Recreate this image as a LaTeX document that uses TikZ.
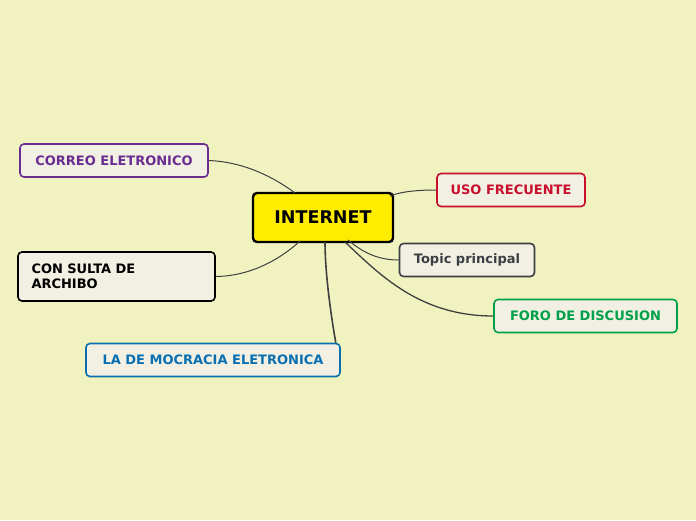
\documentclass[tikz,border=0pt]{standalone}
\usepackage{fontspec}
\setmainfont{DejaVu Sans}
\definecolor{bg}{HTML}{F0F2C0}
\definecolor{nf}{HTML}{F2F0E2}
\definecolor{cpurple}{HTML}{6A2C91}
\definecolor{cred}{HTML}{C8102E}
\definecolor{cgray}{HTML}{3A3F44}
\definecolor{cgreen}{HTML}{00A04A}
\definecolor{cblue}{HTML}{0A6FB0}
\definecolor{line}{HTML}{404040}
\begin{document}
\begin{tikzpicture}[x=1pt,y=-1pt,
  topic/.style={draw,line width=1.6pt,rounded corners=4pt,fill=nf,font=\fontsize{13}{15}\selectfont\bfseries,inner sep=0pt,anchor=center},
  conn/.style={draw=line,line width=1pt}]
\fill[bg] (0,0) rectangle (696,520);
\node[topic,fill=yellow!95!orange,draw=black,line width=2.4pt,minimum width=140,minimum height=49,font=\fontsize{17.5}{20}\selectfont\bfseries] (c) at (323,217.5) {INTERNET};
\node[topic,draw=cpurple,text=cpurple,minimum width=188,minimum height=33] (a) at (114,160.5) {CORREO ELETRONICO};
\node[topic,draw=cred,text=cred,minimum width=148,minimum height=33] (b) at (511,190) {USO FRECUENTE};
\node[topic,draw=cgray,text=cgray,minimum width=135,minimum height=33] (t) at (467,260) {Topic principal};
\node[topic,draw=cgreen,text=cgreen,minimum width=183,minimum height=33] (f) at (585.5,316) {FORO DE DISCUSION};
\node[topic,draw=black,text=black,minimum width=197,minimum height=49,align=left,text width=170] (s) at (116.5,276.5) {CON SULTA DE\\ARCHIBO};
\node[topic,draw=cblue,text=cblue,minimum width=254,minimum height=33] (l) at (213,360) {LA DE MOCRACIA ELETRONICA};
\draw[conn] (a.east) .. controls (245,162) and (275,178) .. (295,193);
\draw[conn] (b.west) .. controls (415,190) and (400,192) .. (390,196);
\draw[conn] (t.west) .. controls (375,260) and (360,250) .. (348,240);
\draw[conn,line width=1.3pt] (f.west) .. controls (420,316) and (380,275) .. (345,242);
\draw[conn] (s.east) .. controls (255,276) and (285,255) .. (300,241);
\draw[conn,line width=1.6pt] (l.north east) ++(-5,0) .. controls (330,310) and (325,270) .. (325,242);
\end{tikzpicture}
\end{document}
